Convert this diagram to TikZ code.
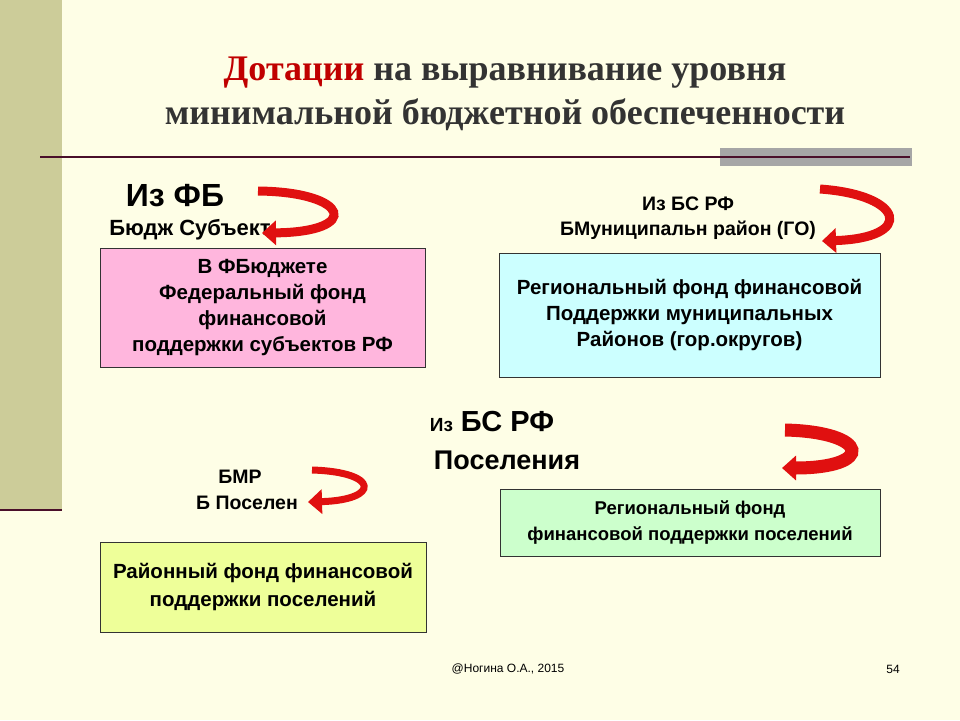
\documentclass[tikz,border=0pt]{standalone}
\usepackage{fontspec}
\setmainfont{Liberation Sans}
\newfontfamily\serifb{Liberation Serif}
\usetikzlibrary{arrows.meta}
\definecolor{bg}{HTML}{FEFEE6}
\definecolor{olive}{HTML}{CCCC99}
\definecolor{maroon}{HTML}{4A0F2A}
\definecolor{arr}{HTML}{E01010}
\definecolor{pinkb}{HTML}{FFB6DD}
\definecolor{cyanb}{HTML}{CCFFFF}
\definecolor{greenb}{HTML}{CCFFCC}
\definecolor{yellowb}{HTML}{EEFF99}
\definecolor{titred}{HTML}{C00000}
\definecolor{titgray}{HTML}{333333}
\tikzset{
  box/.style={draw=black!80, line width=0.8pt, inner sep=0pt, align=center, font=\bfseries},
  lbl/.style={align=center, font=\bfseries, inner sep=0pt},
  curl/.style={arr, line width=9pt, -{Triangle[width=24pt,length=14pt]}}
}
\begin{document}
\begin{tikzpicture}[x=1pt,y=-1pt]
\useasboundingbox (0,0) rectangle (960,720);
\fill[bg] (0,0) rectangle (960,720);
\fill[olive] (0,0) rectangle (62,510);
\draw[maroon, line width=1.5pt] (0,510) -- (62,510);
\fill[gray!70] (720,148) rectangle (912,166);
\draw[maroon, line width=1.5pt] (40,157) -- (910,157);
\node[lbl, font=\serifb\bfseries\fontsize{36}{40}\selectfont, text=titgray] (t1) at (505,73) {\textcolor{titred}{Дотации} на выравнивание уровня};
\node[lbl, font=\serifb\bfseries\fontsize{36}{40}\selectfont, text=titgray] (t2) at (505,115) {минимальной бюджетной обеспеченности};

\node[box, fill=pinkb, minimum width=325pt, minimum height=119pt, font=\bfseries\fontsize{20.5}{26}\selectfont] (b1) at (262.5,307.5) {В ФБюджете\\Федеральный фонд\\финансовой\\поддержки субъектов РФ};
\node[box, fill=cyanb, minimum width=381pt, minimum height=124pt, font=\bfseries\fontsize{20.5}{26}\selectfont] (b2) at (689.5,315) {Региональный фонд финансовой\\Поддержки муниципальных\\Районов (гор.округов)};
\node[box, fill=greenb, minimum width=380pt, minimum height=67pt, font=\bfseries\fontsize{18.5}{26}\selectfont] (b3) at (690,522.5) {Региональный фонд\\финансовой поддержки поселений};
\node[box, fill=yellowb, minimum width=326pt, minimum height=90pt, font=\bfseries\fontsize{20.5}{28}\selectfont] (b4) at (263,587) {Районный фонд финансовой\\поддержки поселений};

\node[lbl, font=\bfseries\fontsize{32}{36}\selectfont] (l1) at (175,196) {Из ФБ};
\node[lbl, font=\bfseries\fontsize{22}{26}\selectfont] (l2) at (190,230) {Бюдж Субъект};
\node[lbl, font=\bfseries\fontsize{19.5}{24}\selectfont] (l3) at (688,204) {Из БС РФ};
\node[lbl, font=\bfseries\fontsize{19.5}{24}\selectfont] (l4) at (688,230) {БМуниципальн район (ГО)};
\node[lbl, font=\bfseries\fontsize{29}{32}\selectfont] (l5) at (492,422) {{\fontsize{19}{20}\selectfont Из} БС РФ};
\node[lbl, font=\bfseries\fontsize{27}{32}\selectfont] (l6) at (507,460) {Поселения};
\node[lbl, font=\bfseries\fontsize{19.5}{24}\selectfont] (l7) at (240,477) {БМР};
\node[lbl, font=\bfseries\fontsize{19.5}{24}\selectfont] (l8) at (247,503) {Б Поселен};

\draw[curl] (258,191) .. controls (350,192) and (362,232) .. (262,233);
\draw[curl] (820,189) .. controls (905,195) and (915,238) .. (822,241);
\draw[curl, line width=13pt] (785,430) .. controls (870,432) and (875,468) .. (782,468);
\draw[curl, line width=7pt] (312,470) .. controls (380,472) and (380,500) .. (308,502);

\node[lbl, font=\mdseries\fontsize{12}{14}\selectfont] (f1) at (508,669) {@Ногина О.А., 2015};
\node[lbl, font=\mdseries\fontsize{12}{14}\selectfont] (f2) at (893,669) {54};
\end{tikzpicture}
\end{document}
